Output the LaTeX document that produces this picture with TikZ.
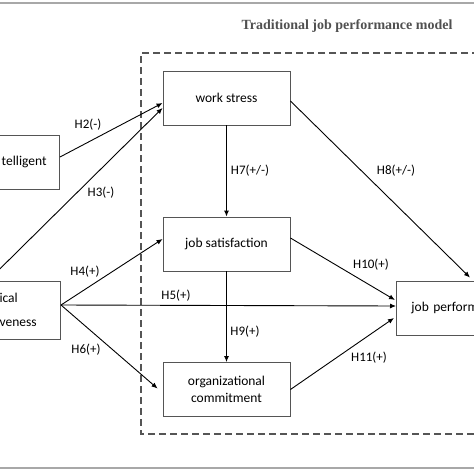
\documentclass[tikz,border=0pt]{standalone}
\usepackage{fontspec}
\setmainfont{Carlito}
\newfontfamily\titlefont{Liberation Serif}
\usetikzlibrary{arrows.meta,calc}
\definecolor{boxline}{HTML}{555555}
\definecolor{rulegray}{HTML}{A8A8A8}
\definecolor{titlegray}{HTML}{505050}
\begin{document}
\begin{tikzpicture}[x=1pt,y=-1pt,
  box/.style={draw=boxline,line width=0.9pt,minimum width=127pt,minimum height=54pt,inner sep=0pt,font=\fontsize{13.5}{15}\selectfont,align=center},
  conn/.style={draw=black,line width=0.9pt,-{Latex[length=6pt,width=5pt]}},
  lbl/.style={font=\fontsize{13}{15}\selectfont,inner sep=1pt},
  frame/.style={draw=boxline,line width=1.3pt,dash pattern=on 7pt off 4pt}]
\useasboundingbox (0,0) rectangle (474,474);
\clip (0,0) rectangle (474,474);
% rules
\draw[rulegray,line width=1.3pt] (0,3) -- (474,3);
\draw[rulegray,line width=1.3pt] (0,468) -- (474,468);
% title
\node[font=\titlefont\fontsize{14}{16}\selectfont\bfseries,text=titlegray] (title) at (347,26) {Traditional job performance model};
% dashed frame
\draw[frame] (490,53) -- (141,53) -- (141,434) -- (490,434);
% boxes
\node[box] (ws) at (226.5,98) {work stress};
\node[box] (js) at (226.5,244) {job satisfaction};
\node[box] (oc) at (226.5,389.5) {organizational\\[2pt]commitment};
\node[box,minimum width=0pt,text width=100pt,align=right,inner xsep=13pt,anchor=east] (ei) at (60,162) {telligent};
\node[box,minimum width=0pt,minimum height=58pt,text width=50pt,align=left,inner xsep=11pt,anchor=east] (pa) at (61,310) {\raisebox{-4pt}{ical}\\[9pt]\raisebox{-4pt}{veness}};
\node[box,minimum width=0pt,text width=100pt,align=left,inner xsep=15pt,anchor=west] (jp) at (396,308) {job perform};
% connectors
\coordinate (pao) at (61,305);
\coordinate (eio) at (60,157);
\draw[conn] (eio) -- ($(ws.west)+(0,5)$);
\draw[conn] (pa.north west) -- ($(ws.west)+(0,10)$);
\draw[conn] (pao) -- ($(js.west)+(0,-5)$);
\draw[conn] (pao) -- ($(jp.west)+(0,-2)$);
\draw[conn] (pao) -- ($(oc.west)+(-5,-1)$);
\draw[conn] (ws.south) -- (js.north);
\draw[conn] (js.south) -- (oc.north);
\draw[conn] ($(ws.east)+(0,3)$) -- ($(jp.north west)+(74,-3)$);
\draw[conn] ($(js.east)+(0,-6)$) -- ($(jp.west)+(-1,-8)$);
\draw[conn] (oc.east) -- ($(jp.west)+(-2,10)$);
% labels
\node[lbl] (l2) at (88,125) {H2(-)};
\node[lbl] (l3) at (101,193) {H3(-)};
\node[lbl] (l4) at (85,272) {H4(+)};
\node[lbl] (l5) at (176,296) {H5(+)};
\node[lbl] (l6) at (86,350) {H6(+)};
\node[lbl] (l7) at (250,171) {H7(+/-)};
\node[lbl] (l8) at (396,171) {H8(+/-)};
\node[lbl] (l9) at (245,332) {H9(+)};
\node[lbl] (l10) at (371,265) {H10(+)};
\node[lbl] (l11) at (369,358) {H11(+)};
\end{tikzpicture}
\end{document}
